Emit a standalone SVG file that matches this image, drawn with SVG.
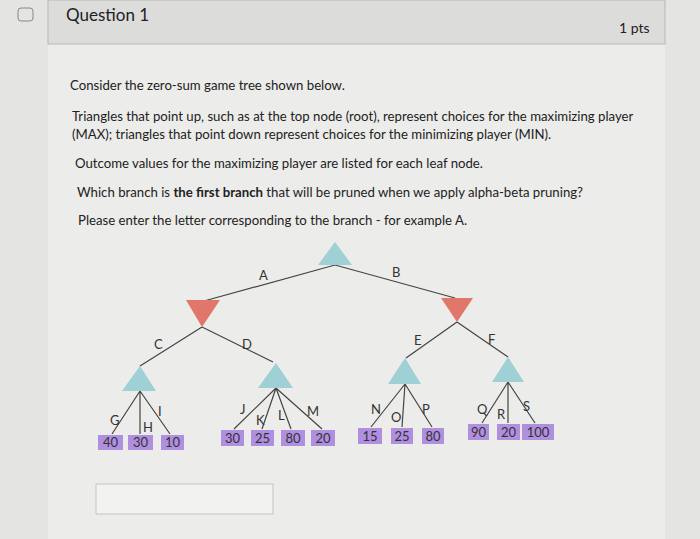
<svg xmlns="http://www.w3.org/2000/svg" width="700" height="539" viewBox="0 0 700 539">
<style>
text{font-family:Lato,"Liberation Sans",sans-serif;fill:#222}
.p{font-size:13.2px}
.l{font-size:13px;fill:#333}
.v{font-size:13px;fill:#333;text-anchor:middle}
.max{fill:#9fd0d6}
.min{fill:#e0776a}
.leaf{fill:#b08ee0}
.e{stroke:#444;stroke-width:1.2;fill:none}
</style>
<rect width="700" height="539" fill="#e4e4e2"/>
<rect x="48" y="0" width="617" height="539" fill="#ececea"/>
<rect x="48" y="0" width="617" height="44" fill="#dcdcda" stroke="#b8b8b6"/>
<rect x="18" y="8" width="15" height="13" rx="3" fill="none" stroke="#888"/>
<text x="66" y="21" style="font-size:17px">Question 1</text>
<text x="619" y="33" style="font-size:14px">1 pts</text>
<text class="p" x="70" y="90">Consider the zero-sum game tree shown below.</text>
<text class="p" x="72" y="121">Triangles that point up, such as at the top node (root), represent choices for the maximizing player</text>
<text class="p" x="72" y="139">(MAX); triangles that point down represent choices for the minimizing player (MIN).</text>
<text class="p" x="75" y="168">Outcome values for the maximizing player are listed for each leaf node.</text>
<text class="p" x="77" y="197">Which branch is <tspan font-weight="bold">the first branch</tspan> that will be pruned when we apply alpha-beta pruning?</text>
<text class="p" x="78" y="225">Please enter the letter corresponding to the branch - for example A.</text>
<g id="connectors">
<path class="e" d="M335 265L204 301M335 265L455 298M202 327L140 366M202 327L273 362M457 322L406 358M457 322L508 357M140 391L112 434M140 391L140 434M140 391L170 434M276 388L234 429M276 388L262 429M276 388L291 429M276 388L322 429M405 384L371 427M405 384L402 427M405 384L432 427M508 382L482 423M508 382L508 423M508 382L535 423"/>
</g>
<g id="root"><polygon class="max" points="335,242 318,265 352,265"/></g>
<g id="minL"><polygon class="min" points="186,300 220,300 202,327"/></g>
<g id="minR"><polygon class="min" points="441,298 473,298 457,322"/></g>
<g id="maxC"><polygon class="max" points="140,366 122,391 156,391"/></g>
<g id="maxD"><polygon class="max" points="276,363 258,388 293,388"/></g>
<g id="maxE"><polygon class="max" points="405,358 388,384 421,384"/></g>
<g id="maxF"><polygon class="max" points="508,357 492,382 524,382"/></g>
<g id="labels">
<text class="l" x="259" y="280">A</text><text class="l" x="392" y="277">B</text>
<text class="l" x="154" y="349">C</text><text class="l" x="242" y="349">D</text>
<text class="l" x="414" y="345">E</text><text class="l" x="488" y="344">F</text>
<text class="l" x="110" y="425">G</text><text class="l" x="143" y="432">H</text><text class="l" x="158" y="416">I</text>
<text class="l" x="240" y="414">J</text><text class="l" x="256" y="425">K</text><text class="l" x="278" y="420">L</text><text class="l" x="307" y="416">M</text>
<text class="l" x="371" y="414">N</text><text class="l" x="391" y="422">O</text><text class="l" x="422" y="414">P</text>
<text class="l" x="477" y="414">Q</text><text class="l" x="497" y="419">R</text><text class="l" x="523" y="411">S</text>
</g>
<g id="leaves">
<rect class="leaf" x="98" y="435" width="25" height="15"/><text class="v" x="110.5" y="447">40</text>
<rect class="leaf" x="128" y="435" width="25" height="15"/><text class="v" x="140.5" y="447">30</text>
<rect class="leaf" x="161" y="435" width="23" height="15"/><text class="v" x="172.5" y="447">10</text>
<rect class="leaf" x="221" y="430" width="23" height="16"/><text class="v" x="232.5" y="443">30</text>
<rect class="leaf" x="251" y="430" width="23" height="16"/><text class="v" x="262.5" y="443">25</text>
<rect class="leaf" x="281" y="430" width="24" height="16"/><text class="v" x="293" y="443">80</text>
<rect class="leaf" x="311" y="430" width="24" height="16"/><text class="v" x="323" y="443">20</text>
<rect class="leaf" x="358" y="428" width="24" height="16"/><text class="v" x="370" y="441">15</text>
<rect class="leaf" x="391" y="428" width="22" height="16"/><text class="v" x="402" y="441">25</text>
<rect class="leaf" x="422" y="428" width="22" height="16"/><text class="v" x="433" y="441">80</text>
<rect class="leaf" x="468" y="424" width="21" height="16"/><text class="v" x="478.5" y="437">90</text>
<rect class="leaf" x="497" y="424" width="23" height="16"/><text class="v" x="508.5" y="437">20</text>
<rect class="leaf" x="522" y="424" width="32" height="16"/><text class="v" x="538" y="437">100</text>
</g>
<rect x="96" y="484" width="177" height="30" fill="#f2f2f0" stroke="#c4c4c2"/>
</svg>
